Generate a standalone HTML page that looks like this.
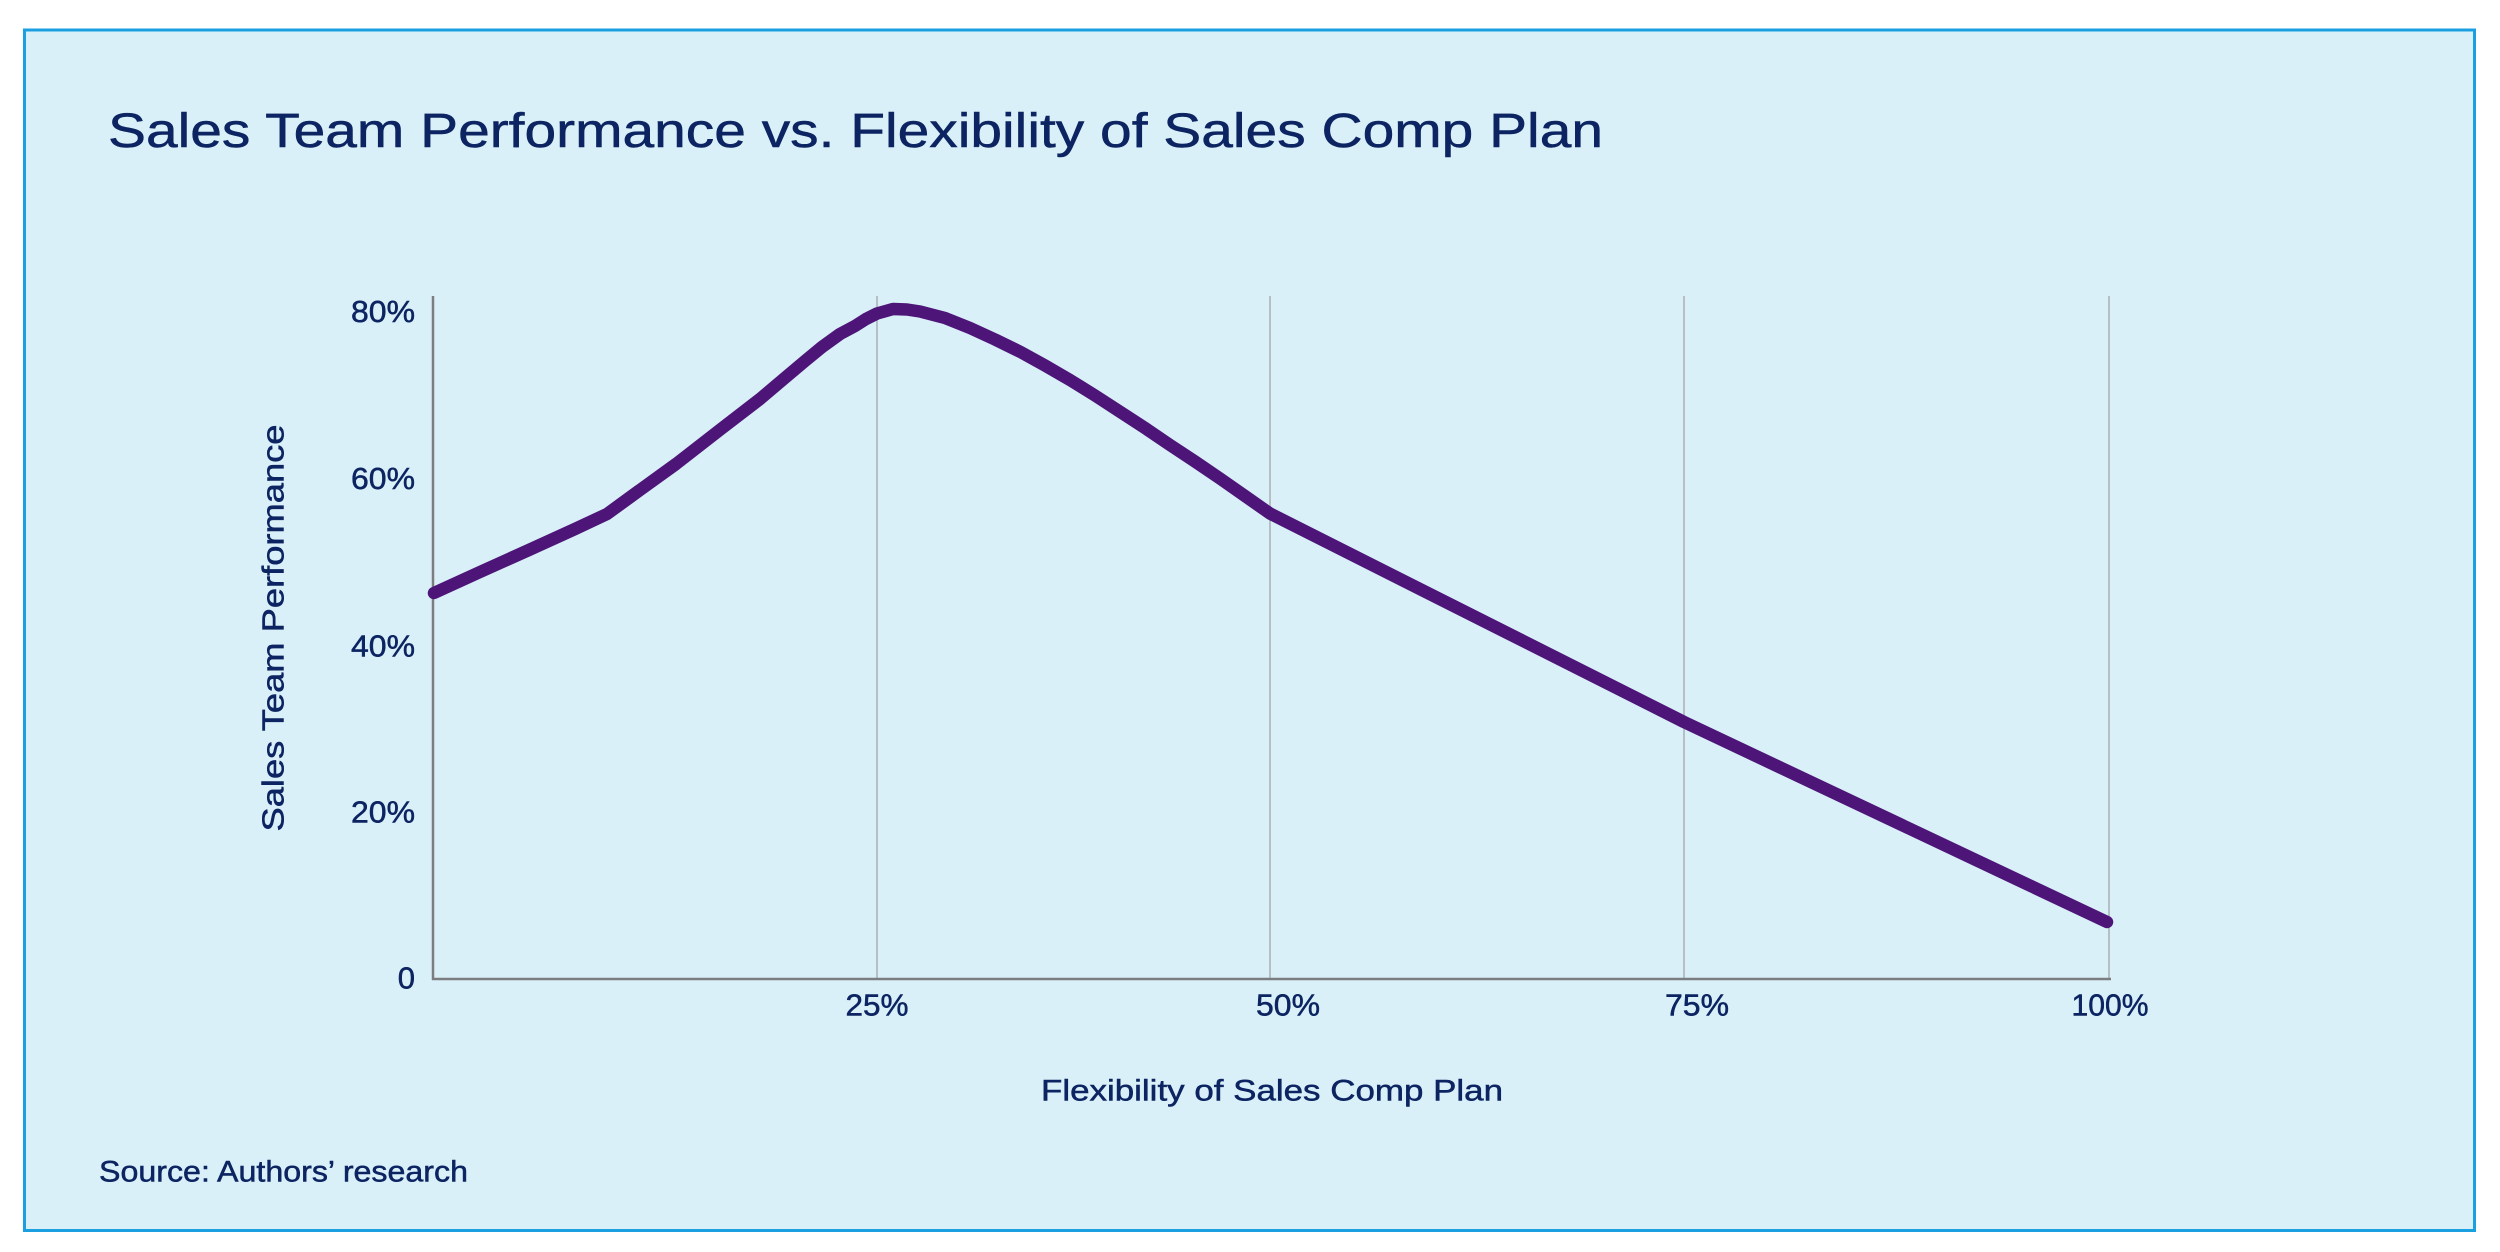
<!DOCTYPE html>
<html>
<head>
<meta charset="utf-8">
<style>
  html, body { margin: 0; padding: 0; background: #ffffff; }
  body { width: 2500px; height: 1252px; overflow: hidden; }
  svg { display: block; }
  text { font-family: "Liberation Sans", Arial, sans-serif; fill: #0c2461; stroke: #0c2461; stroke-width: 0.5; }
</style>
</head>
<body>
<svg width="2500" height="1252" viewBox="0 0 2500 1252" xmlns="http://www.w3.org/2000/svg">
  <rect x="0" y="0" width="2500" height="1252" fill="#ffffff"/>
  <!-- frame -->
  <rect x="24.5" y="30" width="2450" height="1200.5" fill="#daf0f9" stroke="#1a9fe0" stroke-width="3"/>

  <!-- title -->
  <text x="108" y="147" font-size="48" textLength="1495" lengthAdjust="spacingAndGlyphs">Sales Team Performance vs. Flexibility of Sales Comp Plan</text>

  <!-- gridlines -->
  <g stroke="#a6aaae" stroke-width="1.4">
    <line x1="877" y1="296" x2="877" y2="978"/>
    <line x1="1270" y1="296" x2="1270" y2="978"/>
    <line x1="1684" y1="296" x2="1684" y2="978"/>
    <line x1="2109" y1="296" x2="2109" y2="978"/>
  </g>
  <!-- axes -->
  <g stroke="#7b7d80" stroke-width="2.5">
    <line x1="433" y1="296" x2="433" y2="980"/>
    <line x1="432" y1="979" x2="2111" y2="979"/>
  </g>

  <!-- y tick labels -->
  <g font-size="31" text-anchor="end">
    <text x="415" y="322" textLength="64" lengthAdjust="spacingAndGlyphs">80%</text>
    <text x="415" y="489" textLength="64" lengthAdjust="spacingAndGlyphs">60%</text>
    <text x="415" y="656.5" textLength="64" lengthAdjust="spacingAndGlyphs">40%</text>
    <text x="415" y="822.5" textLength="64" lengthAdjust="spacingAndGlyphs">20%</text>
    <text x="415" y="988.5">0</text>
  </g>

  <!-- x tick labels -->
  <g font-size="31" text-anchor="middle">
    <text x="877" y="1015.5" textLength="63" lengthAdjust="spacingAndGlyphs">25%</text>
    <text x="1288" y="1015.5" textLength="64" lengthAdjust="spacingAndGlyphs">50%</text>
    <text x="1697" y="1015.5" textLength="64" lengthAdjust="spacingAndGlyphs">75%</text>
    <text x="2110" y="1015.5" textLength="77" lengthAdjust="spacingAndGlyphs">100%</text>
  </g>

  <!-- axis titles -->
  <text x="1272" y="1100.5" font-size="30" text-anchor="middle" textLength="462" lengthAdjust="spacingAndGlyphs">Flexibility of Sales Comp Plan</text>
  <text transform="translate(283.5,628) rotate(-90)" x="0" y="0" font-size="31" text-anchor="middle" textLength="407" lengthAdjust="spacingAndGlyphs">Sales Team Performance</text>

  <!-- source -->
  <text x="99" y="1181.5" font-size="30" textLength="369" lengthAdjust="spacingAndGlyphs">Source: Authors’ research</text>

  <!-- series -->
  <polyline fill="none" stroke="#4e1579" stroke-width="12.5" stroke-linejoin="round" stroke-linecap="round"
    points="434,593 480,572 530,549.5 575,529 607,514 640,490 676,464 721,429 760,399 786,377 805,361 822,347 840,334 855,326 866,319 877,313.5 893,309 907,309.5 920,311.5 945,318 970,328 995,339.5 1020,351.7 1045,365.5 1070,380 1095,395.5 1120,411.7 1145,428 1170,445 1195,461.5 1220,478.5 1245,496 1270,513.5 1684,722 2107,922"/>
</svg>
</body>
</html>
